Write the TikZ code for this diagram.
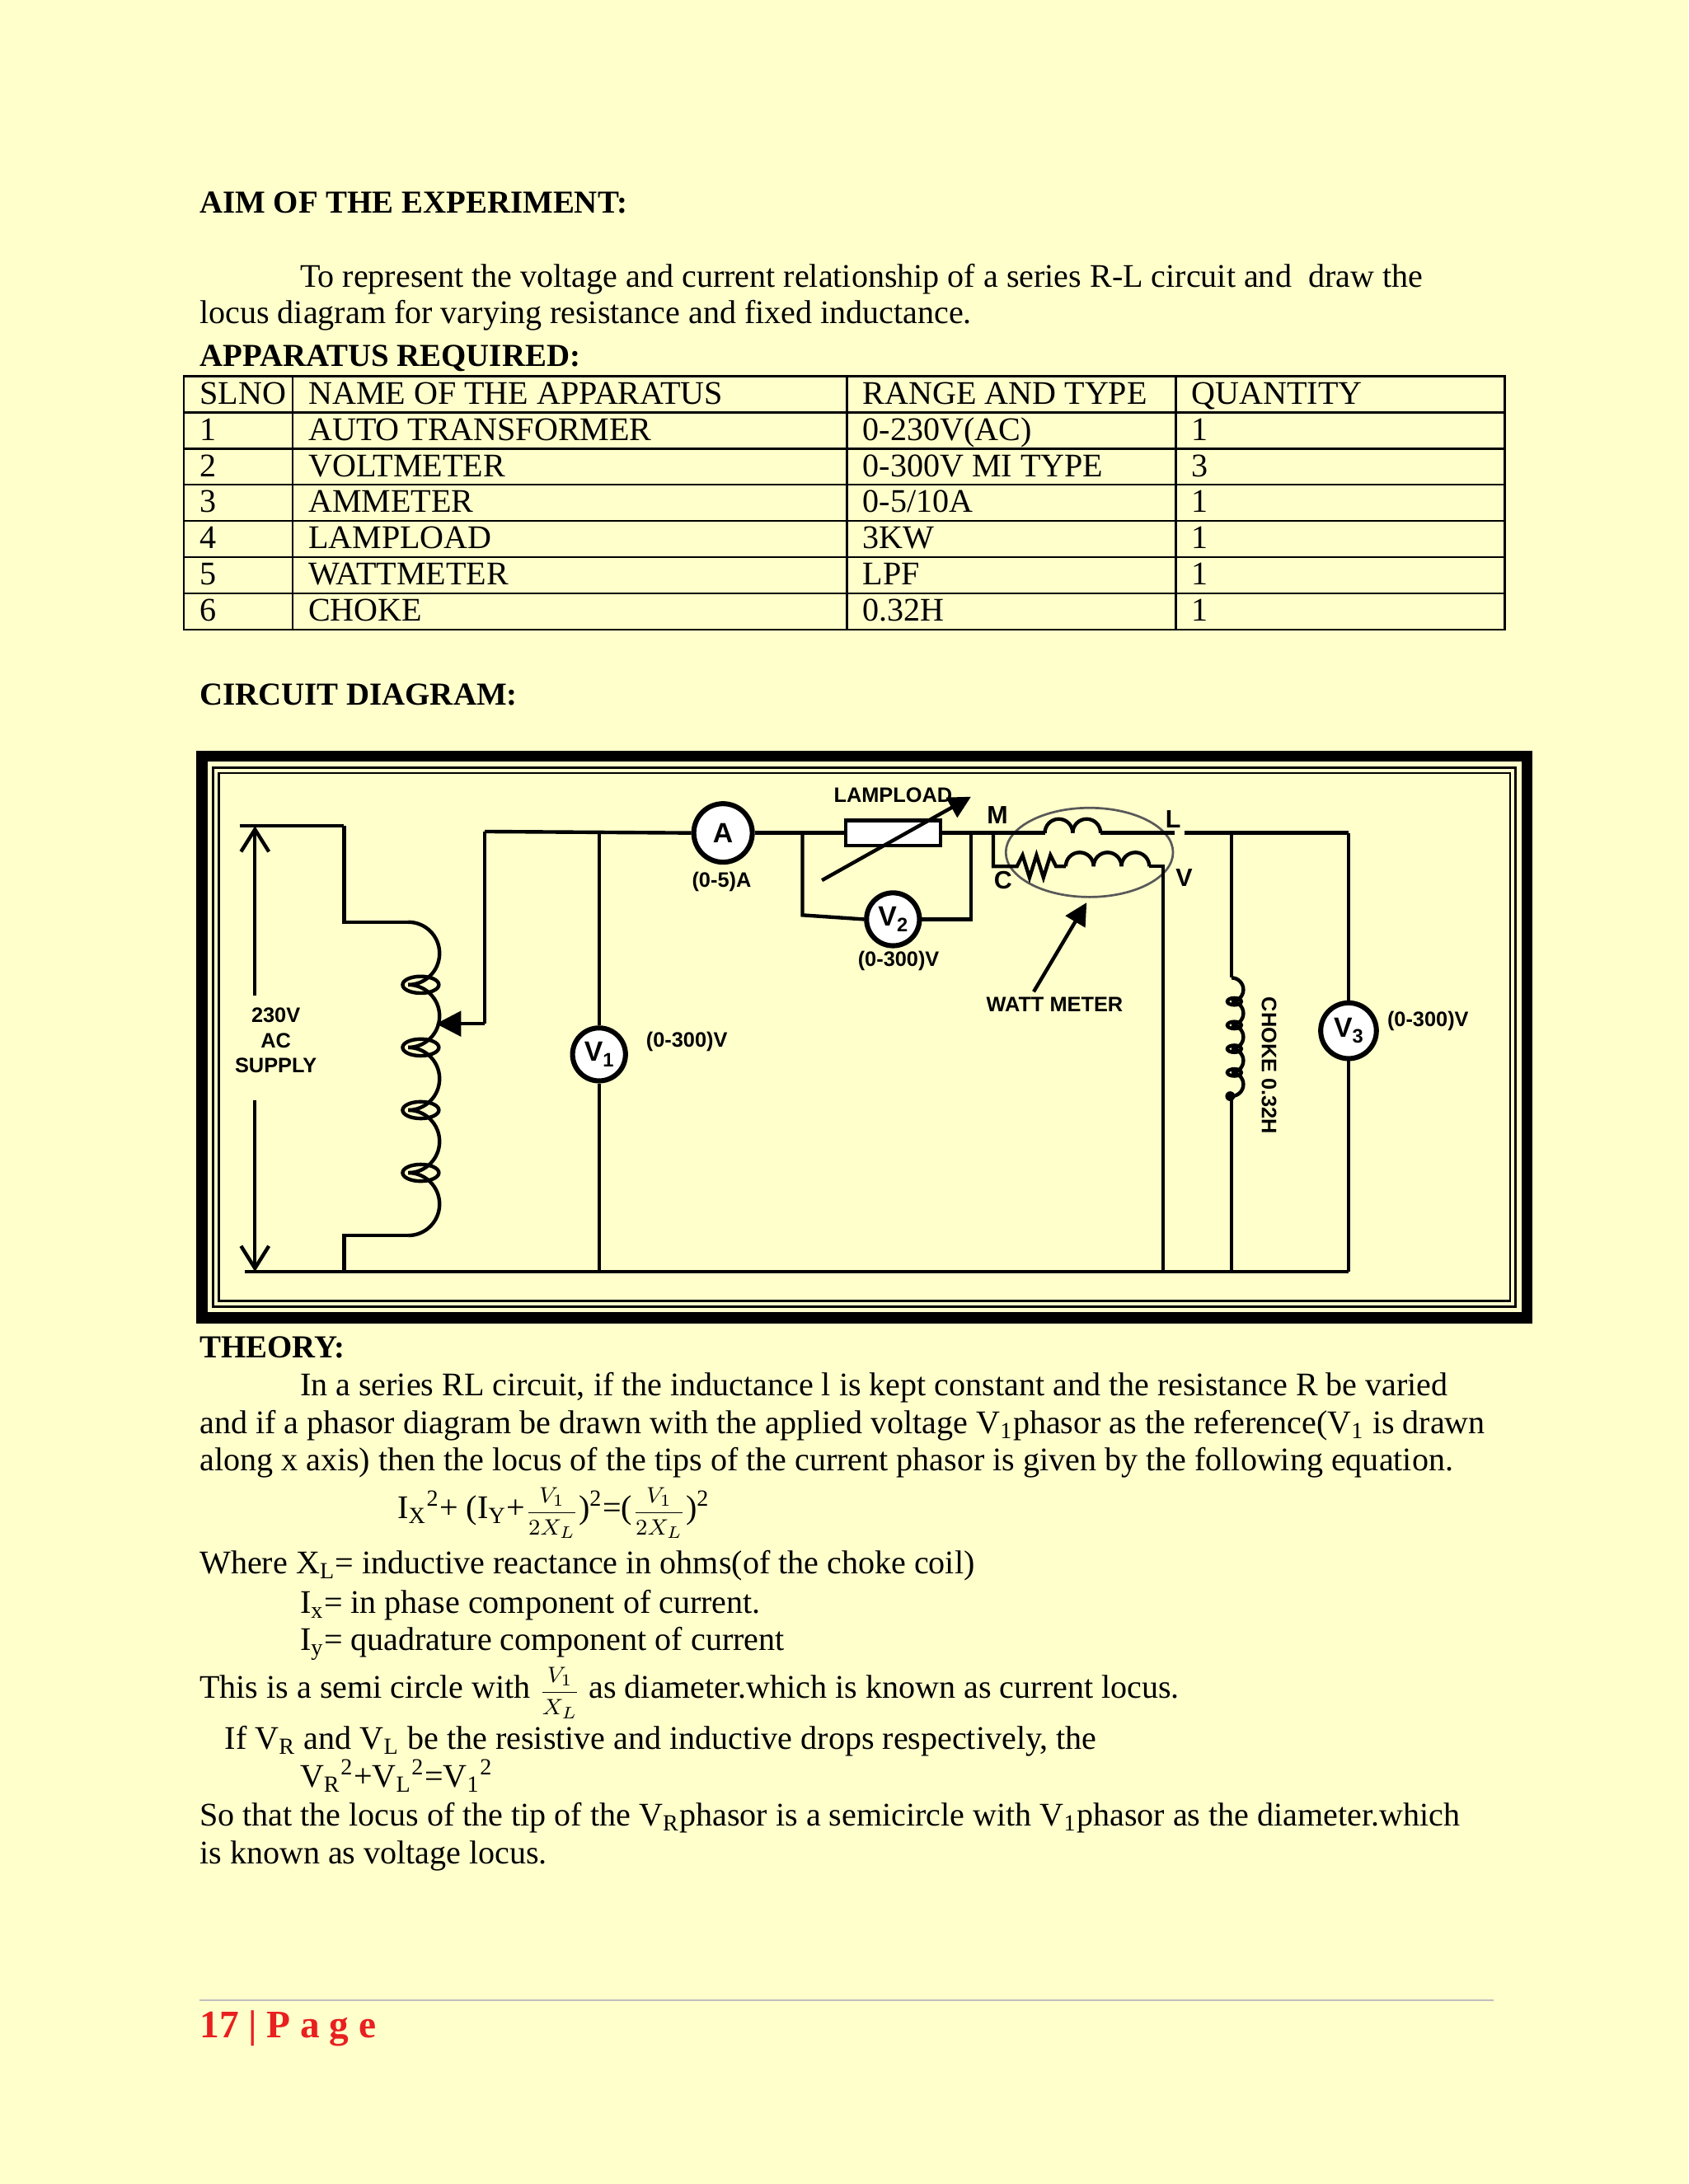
\documentclass[tikz,border=0pt]{standalone}
\usepackage{fontspec}
\setmainfont{Liberation Serif}
\newfontfamily\arial{Liberation Sans}
\usetikzlibrary{arrows.meta}
\definecolor{pagebg}{HTML}{FFFFCC}
\definecolor{pagered}{HTML}{E8201F}
\newcommand{\myfr}[2]{{\fontsize{8.5}{9}\selectfont$\displaystyle\frac{#1}{#2}$}}
\begin{document}
\begin{tikzpicture}[x=0.5pt,y=-0.5pt,
  txt/.style={anchor=base west,inner sep=0pt,font=\fontsize{11.85}{14}\selectfont},
  head/.style={anchor=base west,inner sep=0pt,font=\fontsize{11.5}{13}\selectfont\bfseries},
  cell/.style={anchor=base west,inner sep=0pt,font=\fontsize{11.85}{14}\selectfont},
  wire/.style={line width=1.3pt},
  meter/.style={circle,draw,line width=1.8pt,fill=white,minimum size=21pt,inner sep=0pt,font=\arial\bfseries\fontsize{10}{12}\selectfont},
  clab/.style={inner sep=0pt,font=\arial\bfseries\fontsize{7.5}{9}\selectfont},
  tlab/.style={clab,font=\arial\bfseries\fontsize{9}{10}\selectfont}]
\fill[pagebg] (0,0) rectangle (1212,1568);
\useasboundingbox (0,0) rectangle (1212,1568);
% headings
\node[head] (h1) at (143,153) {AIM OF THE EXPERIMENT:};
\node[txt] (p1) at (215,206) {To represent the voltage and current relationship of a series R-L circuit and\ \ draw the};
\node[txt] (p2) at (143,232) {locus diagram for varying resistance and fixed inductance.};
\node[head] (h2) at (143,263) {APPARATUS REQUIRED:};
% table
\draw[line width=0.8pt] (132,270) rectangle (1080,452);
\foreach \y in {296,322,348,374,400,426} \draw[line width=0.8pt] (132,\y) -- (1080,\y);
\foreach \x in {210,608,844} \draw[line width=0.8pt] (\x,270) -- (\x,452);
\foreach \y/\a/\b/\c/\d in {290/SLNO/NAME OF THE APPARATUS/RANGE AND TYPE/QUANTITY,
  316/1/AUTO TRANSFORMER/0-230V(AC)/1, 342/2/VOLTMETER/0-300V MI TYPE/3,
  368/3/AMMETER/{0-5/10A}/1, 394/4/LAMPLOAD/3KW/1, 420/5/WATTMETER/LPF/1, 446/6/CHOKE/0.32H/1}{
  \node[cell] at (143,\y) {\a};
  \node[cell] at (221,\y) {\b};
  \node[cell] at (619,\y) {\c};
  \node[cell] at (855,\y) {\d};}
\node[head] (h3) at (143,506) {CIRCUIT DIAGRAM:};
% frame
\draw[line width=4pt] (145,543) rectangle (1096,946);
\draw[line width=0.8pt] (153,551) rectangle (1088,938);
\draw[line width=0.8pt] (157,555) rectangle (1084,934);
% supply
\coordinate (st) at (183,593); \coordinate (sb) at (183,913);
\draw[wire] (172,593) -- (247,593);
\draw[wire] (176,913) -- (247,913);
\draw[wire,-{Straight Barb[length=8pt,width=10pt]}] (183,715) -- (st);
\draw[wire,-{Straight Barb[length=8pt,width=10pt]}] (183,790) -- (sb);
\node[clab,align=center] (sup) at (198,747) {230V\\AC\\SUPPLY};
% transformer
\draw[wire] (247,593) -- (247,662) -- (293,662);
\foreach \k in {0,...,4}{
  \draw[wire] (293,662+45*\k) arc[start angle=-90,end angle=90,radius=22.5];
}
\foreach \k in {1,...,4}{
  \draw[wire] (302,662+45*\k) ellipse[x radius=13,y radius=6];
}
\draw[wire] (293,887) -- (247,887) -- (247,913);
\coordinate (tap) at (348,735);
\draw[wire] (348,597) -- (tap);
\draw[wire,-{Triangle[length=9pt,width=9pt]}] (tap) -- (313,735);
% main wires
\node[meter] (A) at (519,598) {A};
\node[meter,minimum size=19pt] (V1) at (430,757) {V\raisebox{-0.4ex}{\fontsize{7}{8}\selectfont 1}};
\node[meter,minimum size=19pt] (V2) at (641,660) {V\raisebox{-0.4ex}{\fontsize{7}{8}\selectfont 2}};
\node[meter,minimum size=20pt] (V3) at (968,740) {V\raisebox{-0.4ex}{\fontsize{7}{8}\selectfont 3}};
\coordinate (j1) at (430,597); \coordinate (j1b) at (430,913);
\draw[wire] (348,597) -- (A.west);
\draw[wire] (j1) -- (V1.north); \draw[wire] (V1.south) -- (j1b);
\node[draw,line width=1.3pt,fill=white,minimum width=34pt,minimum height=9pt,inner sep=0pt] (lamp) at (641,598) {};
\coordinate (b1) at (576,598); \coordinate (b2) at (697,598);
\draw[wire] (A.east) -- (lamp.west);
\draw[wire] (b1) -- (576,657) -- (V2.west);
\draw[wire] (V2.east) -- (697,660) -- (b2);
\draw[wire] (lamp.east) -- (713,598);
\draw[wire,-{Triangle[length=8pt,width=8pt]}] (590,632) -- (697,572);
\node[clab] (ll) at (641,571) {LAMPLOAD};
\node[clab] at (518,633) {(0-5)A};
\node[clab] at (645,690) {(0-300)V};
\node[clab] at (493,748) {(0-300)V};
\node[clab] at (1025,733) {(0-300)V};
% wattmeter
\draw[gray!70!black,line width=0.8pt] (782,612) ellipse[x radius=60,y radius=32];
\draw[wire] (713,598) -- (750,598);
\draw[wire] (750,598) arc[start angle=180,end angle=360,radius=10];
\draw[wire] (770,598) arc[start angle=180,end angle=360,radius=10];
\draw[wire] (790,598) -- (843,598);
\draw[wire] (850,598) -- (968,598);
\draw[wire] (713,598) -- (713,622) -- (730,622) -- (734,614) -- (739,630) -- (744,614) -- (749,630) -- (754,614) -- (758,622) -- (765,622);
\draw[wire] (765,622) arc[start angle=180,end angle=360,radius=10];
\draw[wire] (785,622) arc[start angle=180,end angle=360,radius=10];
\draw[wire] (805,622) arc[start angle=180,end angle=360,radius=10];
\draw[wire] (825,622) -- (835,622) -- (835,913);
\node[tlab] at (716,585) {M};
\node[tlab] at (842,588) {L};
\node[tlab] at (720,632) {C};
\node[tlab] at (850,630) {V};
\draw[wire,-{Triangle[length=8pt,width=8pt]}] (742,712) -- (780,648);
\node[clab] at (757,721) {WATT METER};
% choke
\draw[wire] (884,598) -- (884,702);
\foreach \k in {0,...,4}{
  \draw[wire] (884,702+17*\k) arc[start angle=-90,end angle=90,radius=8.5];
}
\foreach \k in {1,...,4}{
  \draw[wire] (886,702+17*\k) ellipse[x radius=5,y radius=2.5];
}
\fill (883,787) circle[radius=3.5];
\draw[wire] (884,787) -- (884,913);
\node[clab,rotate=-90] at (911,765) {CHOKE 0.32H};
\draw[wire] (968,598) -- (V3.north); \draw[wire] (V3.south) -- (968,913);
\draw[wire] (247,913) -- (968,913);
% theory
\node[head] at (143,975) {THEORY:};
\node[txt] at (215,1002) {In a series RL circuit, if the inductance l is kept constant and the resistance R be varied};
\node[txt] at (143,1029) {and if a phasor diagram be drawn with the applied voltage V\textsubscript{1}phasor as the reference(V\textsubscript{1} is drawn};
\node[txt] at (143,1056) {along x axis) then the locus of the tips of the current phasor is given by the following equation.};
\node[txt] at (285,1090) {I\textsubscript{X}\textsuperscript{2}+ (I\textsubscript{Y}+\myfr{V_1}{2X_L})\textsuperscript{2}=(\myfr{V_1}{2X_L})\textsuperscript{2}};
\node[txt] at (143,1130) {Where X\textsubscript{L}= inductive reactance in ohms(of the choke coil)};
\node[txt] at (215,1158) {I\textsubscript{x}= in phase component of current.};
\node[txt] at (215,1185) {I\textsubscript{y}= quadrature component of current};
\node[txt] at (143,1219) {This is a semi circle with \myfr{V_1}{X_L} as diameter.which is known as current locus.};
\node[txt] at (161,1256) {If V\textsubscript{R} and V\textsubscript{L} be the resistive and inductive drops respectively, the};
\node[txt] at (215,1283) {V\textsubscript{R}\textsuperscript{2}+V\textsubscript{L}\textsuperscript{2}=V\textsubscript{1}\textsuperscript{2}};
\node[txt] at (143,1311) {So that the locus of the tip of the V\textsubscript{R}phasor is a semicircle with V\textsubscript{1}phasor as the diameter.which};
\node[txt] at (143,1338) {is known as voltage locus.};
% footer
\draw[gray!50,line width=0.6pt] (143,1436) -- (1072,1436);
\node[anchor=base west,inner sep=0pt,text=pagered,font=\fontsize{14}{16}\selectfont\bfseries] at (143,1463) {17 | P a g e};
\end{tikzpicture}
\end{document}
